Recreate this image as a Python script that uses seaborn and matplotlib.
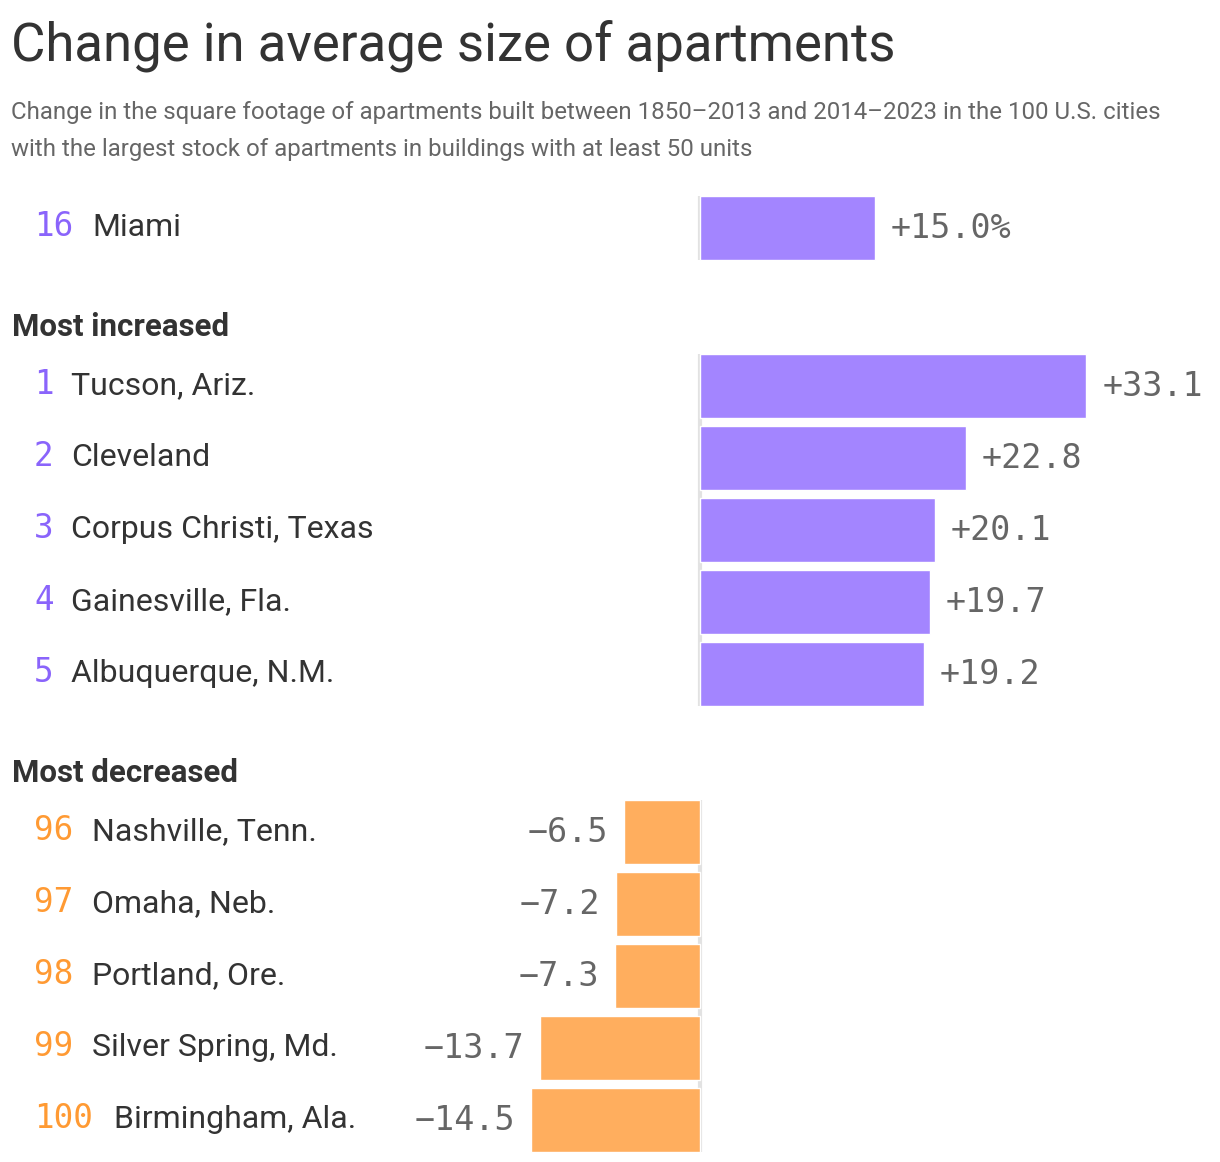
import matplotlib
matplotlib.use("Agg")
import matplotlib.pyplot as plt
import seaborn as sns
import pandas as pd
from matplotlib.transforms import blended_transform_factory, offset_copy

# ---------------- data ----------------
highlight_rank = ["16"]
highlight_city = ["Miami"]
highlight_vals = [15.0]
highlight_labels = ["+15.0%"]

inc_rank = ["1", "2", "3", "4", "5"]
inc_city = ["Tucson, Ariz.", "Cleveland", "Corpus Christi, Texas", "Gainesville, Fla.", "Albuquerque, N.M."]
inc_vals = [33.1, 22.8, 20.1, 19.7, 19.2]
inc_labels = ["+33.1", "+22.8", "+20.1", "+19.7", "+19.2"]

dec_rank = ["96", "97", "98", "99", "100"]
dec_city = ["Nashville, Tenn.", "Omaha, Neb.", "Portland, Ore.", "Silver Spring, Md.", "Birmingham, Ala."]
dec_vals = [-6.5, -7.2, -7.3, -13.7, -14.5]
dec_labels = ["\u22126.5", "\u22127.2", "\u22127.3", "\u221213.7", "\u221214.5"]

title = "Change in average size of apartments"
subtitle1 = "Change in the square footage of apartments built between 1850\u20132013 and 2014\u20132023 in the 100 U.S. cities"
subtitle2 = "with the largest stock of apartments in buildings with at least 50 units"

# ---------------- style ----------------
sns.set_theme(style="white")
plt.rcParams["font.family"] = ["Roboto", "DejaVu Sans"]

PURPLE_BAR = "#a385ff"
PURPLE_TXT = "#8a64fb"
ORANGE_BAR = "#ffae5e"
ORANGE_TXT = "#ff9a33"
DARK = "#333333"
GREY = "#666666"
MONO = ["DejaVu Sans Mono"]

W, H = 1220, 1162
fig = plt.figure(figsize=(W / 100, H / 100), dpi=100)
fig.patch.set_facecolor("white")

PX_PER_UNIT = 11.667
ZERO_PX = 700
XLIM = (-ZERO_PX / PX_PER_UNIT, (W - ZERO_PX) / PX_PER_UNIT)
ROW = 72
BAR_FRAC = 64 / 72


def fx(px):
    return px / W


def fy(py):
    return 1 - py / H


def make_group(top_px, ranks, cities, vals, labels, bar_color, rank_color):
    n = len(vals)
    ax = fig.add_axes([0, fy(top_px + n * ROW), 1, n * ROW / H])
    df = pd.DataFrame({"city": cities, "value": vals})
    sns.barplot(data=df, x="value", y="city", orient="h", color=bar_color,
                saturation=1, width=BAR_FRAC, ax=ax, zorder=2)
    ax.set_xlim(*XLIM)
    ax.set_ylim(n - 0.5, -0.5)
    ax.vlines(0, -BAR_FRAC / 2, n - 1 + BAR_FRAC / 2, color="#e2e2e2", lw=3, zorder=1)
    ax.axis("off")
    trans_axes_x = blended_transform_factory(ax.transAxes, ax.transData)
    for i, (r, c, v, lab) in enumerate(zip(ranks, cities, vals, labels)):
        base = offset_copy(trans_axes_x, fig=fig, y=-8, units="dots")
        ax.text(fx(34), i, r, transform=base, ha="left", va="baseline",
                fontsize=23.5, color=rank_color, family=MONO)
        ax.text(fx(49.5 + 21.5 * len(r)), i, c, transform=base, ha="left",
                va="baseline", fontsize=23, color=DARK)
        vtrans = offset_copy(ax.transData, fig=fig,
                             x=(16 if v > 0 else -16), y=-10, units="dots")
        ax.text(v, i, lab, transform=vtrans, ha=("left" if v > 0 else "right"),
                va="baseline", fontsize=24, color=GREY, family=MONO)
    return ax


make_group(192, highlight_rank, highlight_city, highlight_vals, highlight_labels,
           PURPLE_BAR, PURPLE_TXT)
make_group(350, inc_rank, inc_city, inc_vals, inc_labels, PURPLE_BAR, PURPLE_TXT)
make_group(796, dec_rank, dec_city, dec_vals, dec_labels, ORANGE_BAR, ORANGE_TXT)

fig.text(fx(11), fy(60), title, fontsize=38, color=DARK, ha="left", va="baseline")
fig.text(fx(11), fy(119), subtitle1, fontsize=17.3, color=GREY, ha="left", va="baseline")
fig.text(fx(11), fy(156), subtitle2, fontsize=17.3, color=GREY, ha="left", va="baseline")
fig.text(fx(12), fy(336), "Most increased", fontsize=22.5, fontweight="bold",
         color=DARK, ha="left", va="baseline")
fig.text(fx(12), fy(782), "Most decreased", fontsize=22.5, fontweight="bold",
         color=DARK, ha="left", va="baseline")

fig.savefig("out.png", dpi=100, facecolor="white")
